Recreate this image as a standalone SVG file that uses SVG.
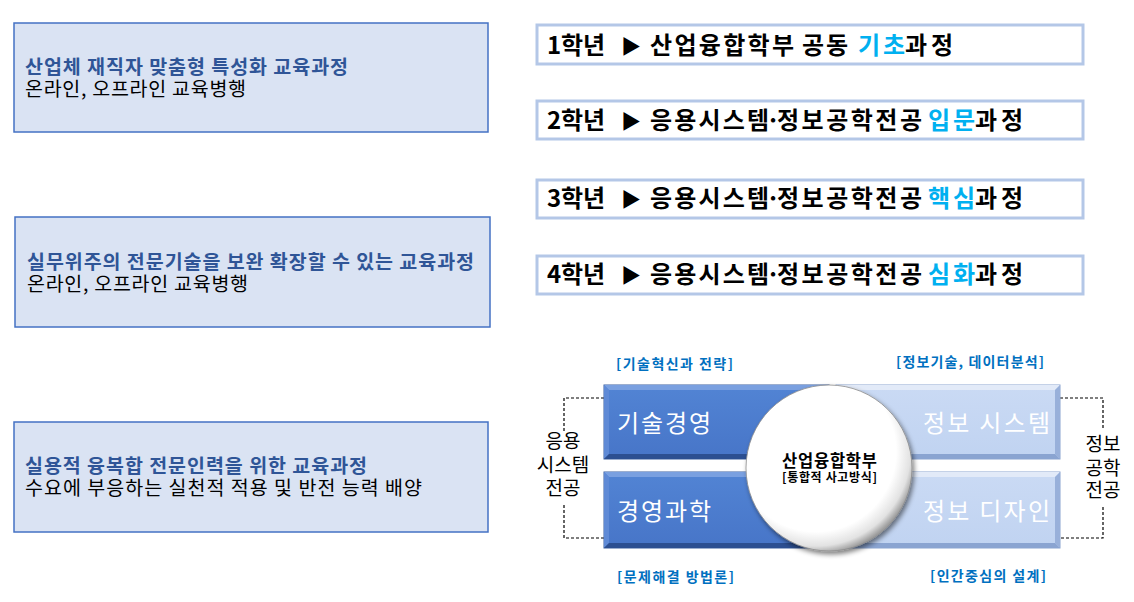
<svg xmlns="http://www.w3.org/2000/svg" width="1134" height="602" viewBox="0 0 1134 602">
<defs>
<style>
.kr{font-family:"Noto Sans CJK KR","Noto Sans CJK SC",sans-serif;}
.lbox{fill:#dae3f3;stroke:#4472c4;stroke-width:1.5;}
.rbox{fill:#ffffff;stroke:#b4c7e7;stroke-width:3;}
.ttl{font-size:19.5px;font-weight:700;fill:#2f5597;}
.sub{font-size:19.5px;font-weight:400;fill:#000000;}
.yr{font-size:24px;font-weight:700;fill:#000000;}
.tri{font-size:20px;}
.cy{fill:#00b0f0;}
.tag{font-size:14px;font-weight:700;fill:#0070c0;}
.side{font-size:19px;font-weight:400;fill:#000000;}
.wt{font-size:24px;font-weight:400;fill:#ffffff;}
.dash{fill:none;stroke:#000000;stroke-width:1.2;stroke-dasharray:3 2;}
.bmain{fill:url(#gBlue);stroke:#3a5e9e;stroke-width:1;}
.btop{fill:#7aa0e0;}
.bleft{fill:#5f8ad6;}
.bright{fill:#3660ad;}
.bbot{fill:#2c4f91;}
.lmain{fill:url(#gLight);stroke:#8aa3cf;stroke-width:1;}
.ltop{fill:#e2eaf8;}
.lleft{fill:#d3e0f5;}
.lright{fill:#98b0da;}
.lbot{fill:#8aa4d1;}
</style>
<linearGradient id="gBlue" x1="0" y1="0" x2="0" y2="1">
<stop offset="0" stop-color="#5284d4"/>
<stop offset="1" stop-color="#4775c8"/>
</linearGradient>
<linearGradient id="gLight" x1="0" y1="0" x2="0" y2="1">
<stop offset="0" stop-color="#cadaf4"/>
<stop offset="1" stop-color="#c0d3f1"/>
</linearGradient>
<radialGradient id="gCircle" cx="0.42" cy="0.4" r="0.62">
<stop offset="0" stop-color="#ffffff"/>
<stop offset="0.78" stop-color="#ffffff"/>
<stop offset="0.92" stop-color="#e2e2e2"/>
<stop offset="1" stop-color="#9c9c9c"/>
</radialGradient>
<filter id="shadow" x="-20%" y="-20%" width="140%" height="140%">
<feGaussianBlur in="SourceAlpha" stdDeviation="2.5"/>
<feOffset dx="2" dy="3" result="b"/>
<feComponentTransfer><feFuncA type="linear" slope="0.5"/></feComponentTransfer>
<feMerge><feMergeNode/><feMergeNode in="SourceGraphic"/></feMerge>
</filter>
</defs>
<rect width="1134" height="602" fill="#ffffff"/>

<g id="goal1">
<rect class="lbox" x="14" y="23" width="474" height="109"/>
<text class="kr ttl" x="25" y="74" textLength="323" lengthAdjust="spacing">산업체 재직자 맞춤형 특성화 교육과정</text>
<text class="kr sub" x="25" y="96" textLength="221" lengthAdjust="spacing">온라인, 오프라인 교육병행</text>
</g>
<g id="goal2">
<rect class="lbox" x="15" y="217" width="475" height="110"/>
<text class="kr ttl" x="27" y="269" textLength="447" lengthAdjust="spacing">실무위주의 전문기술을 보완 확장할 수 있는 교육과정</text>
<text class="kr sub" x="27" y="291" textLength="221" lengthAdjust="spacing">온라인, 오프라인 교육병행</text>
</g>
<g id="goal3">
<rect class="lbox" x="14" y="422" width="474" height="110"/>
<text class="kr ttl" x="25" y="473" textLength="342" lengthAdjust="spacing">실용적 융복합 전문인력을 위한 교육과정</text>
<text class="kr sub" x="25" y="495" textLength="397" lengthAdjust="spacing">수요에 부응하는 실천적 적용 및 반전 능력 배양</text>
</g>

<g id="year1">
<rect class="rbox" x="537" y="25" width="546" height="39"/>
<text class="kr yr" y="54"><tspan x="547" textLength="58" lengthAdjust="spacing">1학년</tspan> <tspan class="tri" x="621">▶</tspan> <tspan x="650" textLength="144" lengthAdjust="spacing">산업융합학부</tspan> <tspan x="802" textLength="46" lengthAdjust="spacing">공동</tspan> <tspan class="cy" x="858" textLength="47" lengthAdjust="spacing">기초</tspan><tspan x="905" textLength="48" lengthAdjust="spacing">과정</tspan></text>
</g>
<g id="year2">
<rect class="rbox" x="537" y="101" width="546" height="38"/>
<text class="kr yr" y="129"><tspan x="547" textLength="58" lengthAdjust="spacing">2학년</tspan> <tspan class="tri" x="621">▶</tspan> <tspan x="650" textLength="119" lengthAdjust="spacing">응용시스템</tspan></text>
<text class="kr yr" x="773" y="129" text-anchor="middle">·</text>
<text class="kr yr" y="129"><tspan x="777" textLength="145" lengthAdjust="spacing">정보공학전공</tspan> <tspan class="cy" x="928" textLength="47" lengthAdjust="spacing">입문</tspan><tspan x="975" textLength="48" lengthAdjust="spacing">과정</tspan></text>
</g>
<g id="year3">
<rect class="rbox" x="537" y="180" width="546" height="38"/>
<text class="kr yr" y="207"><tspan x="547" textLength="58" lengthAdjust="spacing">3학년</tspan> <tspan class="tri" x="621">▶</tspan> <tspan x="650" textLength="119" lengthAdjust="spacing">응용시스템</tspan></text>
<text class="kr yr" x="773" y="207" text-anchor="middle">·</text>
<text class="kr yr" y="207"><tspan x="777" textLength="145" lengthAdjust="spacing">정보공학전공</tspan> <tspan class="cy" x="928" textLength="47" lengthAdjust="spacing">핵심</tspan><tspan x="975" textLength="48" lengthAdjust="spacing">과정</tspan></text>
</g>
<g id="year4">
<rect class="rbox" x="537" y="256" width="546" height="38"/>
<text class="kr yr" y="283"><tspan x="547" textLength="58" lengthAdjust="spacing">4학년</tspan> <tspan class="tri" x="621">▶</tspan> <tspan x="650" textLength="119" lengthAdjust="spacing">응용시스템</tspan></text>
<text class="kr yr" x="773" y="283" text-anchor="middle">·</text>
<text class="kr yr" y="283"><tspan x="777" textLength="145" lengthAdjust="spacing">정보공학전공</tspan> <tspan class="cy" x="928" textLength="47" lengthAdjust="spacing">심화</tspan><tspan x="975" textLength="48" lengthAdjust="spacing">과정</tspan></text>
</g>

<g id="connectors">
<path class="dash" d="M604,398 H564 V433"/>
<path class="dash" d="M564,505 V538 H604"/>
<path class="dash" d="M1060,398 H1103 V428"/>
<path class="dash" d="M1103,507 V538 H1060"/>
</g>

<g id="tech-mgmt">
<rect class="bmain" x="604" y="385" width="225" height="74"/>
<polygon class="btop" points="604,385 829,385 824,390 609,390"/>
<polygon class="bleft" points="604,385 609,390 609,454 604,459"/>
<polygon class="bright" points="829,385 824,390 824,454 829,459"/>
<polygon class="bbot" points="604,459 829,459 824,454 609,454"/>
<text class="kr wt" x="617" y="432" textLength="94" lengthAdjust="spacing">기술경영</text>
</g>
<g id="mgmt-sci">
<rect class="bmain" x="604" y="472" width="225" height="76"/>
<polygon class="btop" points="604,472 829,472 824,477 609,477"/>
<polygon class="bleft" points="604,472 609,477 609,543 604,548"/>
<polygon class="bright" points="829,472 824,477 824,543 829,548"/>
<polygon class="bbot" points="604,548 829,548 824,543 609,543"/>
<text class="kr wt" x="617" y="520" textLength="94" lengthAdjust="spacing">경영과학</text>
</g>
<g id="info-sys">
<rect class="lmain" x="836" y="385" width="224" height="74"/>
<polygon class="ltop" points="836,385 1060,385 1055,390 841,390"/>
<polygon class="lleft" points="836,385 841,390 841,454 836,459"/>
<polygon class="lright" points="1060,385 1055,390 1055,454 1060,459"/>
<polygon class="lbot" points="836,459 1060,459 1055,454 841,454"/>
<text class="kr wt" x="923" y="432" textLength="127" lengthAdjust="spacing">정보 시스템</text>
</g>
<g id="info-design">
<rect class="lmain" x="836" y="472" width="224" height="76"/>
<polygon class="ltop" points="836,472 1060,472 1055,477 841,477"/>
<polygon class="lleft" points="836,472 841,477 841,543 836,548"/>
<polygon class="lright" points="1060,472 1055,477 1055,543 1060,548"/>
<polygon class="lbot" points="836,548 1060,548 1055,543 841,543"/>
<text class="kr wt" x="923" y="520" textLength="127" lengthAdjust="spacing">정보 디자인</text>
</g>

<g id="center">
<circle cx="829" cy="468" r="83" fill="url(#gCircle)" stroke="#8c8c8c" stroke-width="0.8" filter="url(#shadow)"/>
<text class="kr" x="782" y="467" textLength="95" lengthAdjust="spacing" font-size="16.5px" font-weight="700" fill="#000000">산업융합학부</text>
<text class="kr" x="782" y="482" textLength="95" lengthAdjust="spacing" font-size="12px" font-weight="700" fill="#000000">[통합적 사고방식]</text>
</g>

<g id="side-left">
<text class="kr side" x="563" y="448" text-anchor="middle">응용</text>
<text class="kr side" x="563" y="472" text-anchor="middle">시스템</text>
<text class="kr side" x="563" y="495" text-anchor="middle">전공</text>
</g>
<g id="side-right">
<text class="kr side" x="1103" y="451" text-anchor="middle">정보</text>
<text class="kr side" x="1103" y="475" text-anchor="middle">공학</text>
<text class="kr side" x="1103" y="497" text-anchor="middle">전공</text>
</g>

<g id="tags">
<text class="kr tag" x="616" y="369" textLength="117" lengthAdjust="spacing">[기술혁신과 전략]</text>
<text class="kr tag" x="896" y="367" textLength="148" lengthAdjust="spacing">[정보기술, 데이터분석]</text>
<text class="kr tag" x="617" y="582" textLength="117" lengthAdjust="spacing">[문제해결 방법론]</text>
<text class="kr tag" x="930" y="581" textLength="116" lengthAdjust="spacing">[인간중심의 설계]</text>
</g>
</svg>
